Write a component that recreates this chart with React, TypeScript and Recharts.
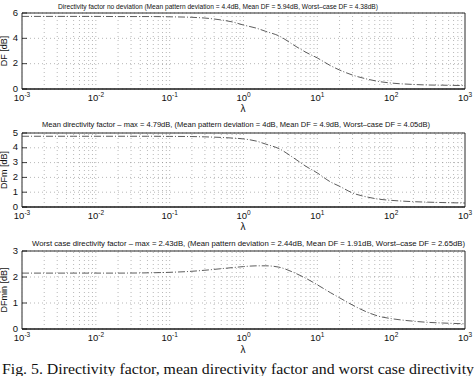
import { LineChart, Line, XAxis, YAxis, CartesianGrid, ReferenceLine, ReferenceArea } from "recharts";

// lambda sample points (log spaced)
const lambda = [0.001, 0.002, 0.005, 0.01, 0.02, 0.05, 0.1, 0.2, 0.3, 0.5, 0.7, 1, 1.5, 2, 3, 5, 7, 10, 15, 20, 30, 50, 70, 100, 200, 300, 500, 1000];

// DF [dB] – no deviation
const dfNoDev = [5.73, 5.73, 5.73, 5.73, 5.72, 5.72, 5.7, 5.66, 5.6, 5.45, 5.3, 5.05, 4.8, 4.55, 4.2, 3.4, 2.9, 2.45, 1.85, 1.5, 1.1, 0.75, 0.58, 0.47, 0.36, 0.32, 0.3, 0.27];
// DFm [dB] – mean directivity factor
const dfMean = [4.78, 4.78, 4.78, 4.78, 4.78, 4.78, 4.77, 4.76, 4.74, 4.7, 4.66, 4.6, 4.45, 4.25, 3.95, 3.25, 2.75, 2.3, 1.7, 1.4, 0.95, 0.65, 0.52, 0.45, 0.36, 0.33, 0.3, 0.27];
// DFmin [dB] – worst case directivity factor
const dfWorst = [2.15, 2.15, 2.15, 2.15, 2.15, 2.16, 2.18, 2.22, 2.26, 2.32, 2.36, 2.4, 2.43, 2.43, 2.38, 2.15, 1.95, 1.7, 1.4, 1.2, 0.92, 0.62, 0.48, 0.4, 0.3, 0.26, 0.23, 0.2];

const decadeTicks = [0.001, 0.01, 0.1, 1, 10, 100, 1000];
const minorGrid = decadeTicks.slice(0, -1).flatMap((d) => [1, 2, 3, 4, 5, 6, 7, 8, 9].map((m) => d * m));

const titles = [
  "Directivity factor no deviation (Mean pattern deviation = 4.4dB, Mean DF = 5.94dB, Worst\u2013case DF = 4.38dB)",
  "Mean directivity factor \u2013 max = 4.79dB, (Mean pattern deviation = 4dB, Mean DF = 4.9dB, Worst\u2013case DF = 4.05dB)",
  "Worst  case directivity factor \u2013 max = 2.43dB, (Mean pattern deviation = 2.44dB, Mean DF = 1.91dB, Worst\u2013case DF = 2.65dB)",
];
const yLabels = ["DF [dB]", "DFm [dB]", "DFmin [dB]"];
const caption = "Fig. 5.  Directivity factor, mean directivity factor and worst case directivity";

const SANS = "'Liberation Sans', Arial, sans-serif";

const XTick = ({ x, y, payload }: any) => {
  const exp = Math.round(Math.log10(payload.value));
  return (
    <text x={x} y={y + 4} textAnchor="middle" fontSize={9.5} fontFamily={SANS} fill="#111">
      <tspan>10</tspan>
      <tspan dy={-4.5} fontSize={6.5}>{exp}</tspan>
    </text>
  );
};

// recharts hands the tick x at axis - 8 px; the axis line sits at x + 8
const YTick = ({ x, y, payload }: any) => (
  <g>
    <text x={x + 4} y={y + 2.5} textAnchor="end" fontSize={9.5} fontFamily={SANS} fill="#111">
      {payload.value}
    </text>
    <line x1={x + 8} x2={x + 13} y1={y} y2={y} stroke="#111" strokeWidth={0.8} />
  </g>
);

type PanelProps = {
  top: number;
  height: number;
  marginTop: number;
  xAxisHeight: number;
  values: number[];
  yMax: number;
  yTicks: number[];
};

function Panel({ top, height, marginTop, xAxisHeight, values, yMax, yTicks }: PanelProps) {
  const data = lambda.map((l, i) => ({ lambda: l, v: values[i] }));
  return (
    <div style={{ position: "absolute", left: 0, top }}>
      <LineChart width={474} height={height} data={data} margin={{ top: marginTop, right: 9, bottom: 0, left: 0 }}>
        <CartesianGrid vertical={false} stroke="#888" strokeWidth={0.6} strokeDasharray="1 3" />
        {minorGrid.map((m) => (
          <ReferenceLine key={m} x={m} stroke="#888" strokeWidth={0.6} strokeDasharray="1 3" />
        ))}
        <XAxis
          dataKey="lambda"
          type="number"
          scale="log"
          domain={[0.001, 1000]}
          ticks={decadeTicks}
          interval={0}
          allowDataOverflow
          height={xAxisHeight}
          tickLine={false}
          stroke="#111"
          tick={<XTick />}
        />
        <YAxis
          type="number"
          domain={[0, yMax]}
          ticks={yTicks}
          interval={0}
          width={22}
          tickLine={false}
          axisLine={false}
          tick={<YTick />}
        />
        <ReferenceArea x1={0.001} x2={1000} y1={0} y2={yMax} fill="none" stroke="#111" strokeWidth={0.9} />
        <Line
          type="monotone"
          dataKey="v"
          stroke="#333"
          strokeWidth={0.8}
          strokeDasharray="7 2 1 2"
          dot={false}
          isAnimationActive={false}
        />
      </LineChart>
    </div>
  );
}

export default function App() {
  return (
    <div style={{ position: "absolute", left: 0, top: 0, width: 474, height: 376, background: "#fff", overflow: "hidden" }}>
      <Panel top={0} height={118} marginTop={13} xAxisHeight={29} values={dfNoDev} yMax={6} yTicks={[0, 2, 4, 6]} />
      <Panel top={118} height={118} marginTop={15} xAxisHeight={29} values={dfMean} yMax={5} yTicks={[0, 1, 2, 3, 4, 5]} />
      <Panel top={236} height={120} marginTop={15} xAxisHeight={27} values={dfWorst} yMax={3} yTicks={[0, 1, 2, 3]} />
      <svg width={474} height={376} style={{ position: "absolute", left: 0, top: 0, pointerEvents: "none" }}>
        <text x={58} y={9} fontSize={7.5} fontFamily={SANS} textLength={320} lengthAdjust="spacingAndGlyphs" fill="#111">{titles[0]}</text>
        <text x={42} y={127} fontSize={7.5} fontFamily={SANS} textLength={388} lengthAdjust="spacingAndGlyphs" fill="#111">{titles[1]}</text>
        <text x={32} y={246} fontSize={7.5} fontFamily={SANS} textLength={433} lengthAdjust="spacingAndGlyphs" fill="#111">{titles[2]}</text>
        <text transform="translate(7,51) rotate(-90)" textAnchor="middle" fontSize={9} fontFamily={SANS} fill="#111">{yLabels[0]}</text>
        <text transform="translate(7,170) rotate(-90)" textAnchor="middle" fontSize={9} fontFamily={SANS} fill="#111">{yLabels[1]}</text>
        <text transform="translate(7,290) rotate(-90)" textAnchor="middle" fontSize={9} fontFamily={SANS} fill="#111">{yLabels[2]}</text>
        <text x={243} y={112} textAnchor="middle" fontSize={10} fontFamily={SANS} fill="#111">λ</text>
        <text x={243} y={230} textAnchor="middle" fontSize={10} fontFamily={SANS} fill="#111">λ</text>
        <text x={243} y={353} textAnchor="middle" fontSize={10} fontFamily={SANS} fill="#111">λ</text>
        <text x={2} y={374} fontSize={15} fontFamily="'Liberation Serif', 'Times New Roman', serif" textLength={472} lengthAdjust="spacingAndGlyphs" fill="#111">{caption}</text>
      </svg>
    </div>
  );
}
